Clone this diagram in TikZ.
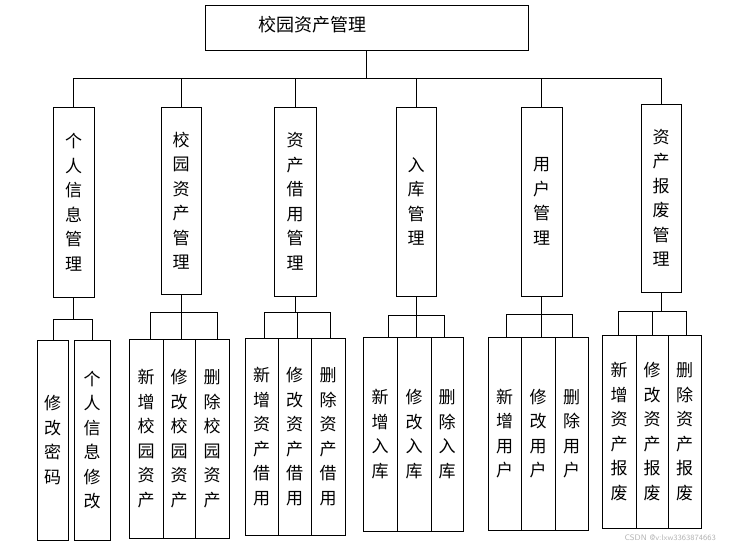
\documentclass[tikz,border=0pt]{standalone}
\usepackage{fontspec}
\newfontfamily\cjk{Noto Sans CJK SC}
\begin{document}
\begin{tikzpicture}[x=1pt,y=-1pt,
  bx/.style={draw,line width=0.9pt,inner sep=0pt},
  vt/.style={font=\cjk\fontsize{17}{24.5}\selectfont,align=center,inner sep=0pt},
  ln/.style={line width=0.9pt}]
\useasboundingbox (0,0) rectangle (730,551);
\newcommand\bx[6]{\node[bx,minimum width={#4-#2},minimum height={#5-#3}] (#1) at ({(#2+#4)/2},{(#3+#5)/2}) {};
  \node[vt] at (#1.center) {#6};}
\node[bx,minimum width=323,minimum height=45] (top) at (366.5,27.5) {};
\node[font=\cjk\fontsize{18}{20}\selectfont,inner sep=0pt] (title) at (312,25) {校园资产管理};
\coordinate (bar) at (0,78);
\bx{p1}{53}{107}{94}{297}{个\\人\\信\\息\\管\\理}
\bx{p2}{161}{107}{201}{294}{校\\园\\资\\产\\管\\理}
\bx{p3}{274}{107}{316}{296}{资\\产\\借\\用\\管\\理}
\bx{p4}{396}{107}{436}{296}{入\\库\\管\\理}
\bx{p5}{521}{107}{562}{296}{用\\户\\管\\理}
\bx{p6}{641}{104}{681}{292}{资\\产\\报\\废\\管\\理}
\draw[ln] (top.south) -- (top.south |- bar);
\draw[ln] (p1.north |- bar) -- (p6.north |- bar);
\foreach \p in {p1,p2,p3,p4,p5,p6} \draw[ln] (\p.north |- bar) -- (\p.north);
% group 1
\bx{a1}{37}{340}{68}{540}{修\\改\\密\\码}
\bx{a2}{74}{340}{110}{540}{个\\人\\信\\息\\修\\改}
\draw[ln] (p1.south) -- (p1.south |- 0,319);
\draw[ln] (53,319) -- (92,319);
\draw[ln] (53,319) -- (53,340); \draw[ln] (92,319) -- (92,340);
% group 2
\bx{b1a}{129}{339}{163}{538}{新\\增\\校\\园\\资\\产}
\bx{b2a}{163}{339}{195}{538}{修\\改\\校\\园\\资\\产}
\bx{b3a}{195}{339}{229}{538}{删\\除\\校\\园\\资\\产}
\draw[ln] (p2.south) -- (p2.south |- 0,339);
\draw[ln] (150,312) -- (217,312);
\draw[ln] (150,312) -- (150,339); \draw[ln] (217,312) -- (217,339);
% group 3
\bx{c1}{245}{338}{278}{535}{新\\增\\资\\产\\借\\用}
\bx{c2}{278}{338}{311}{535}{修\\改\\资\\产\\借\\用}
\bx{c3}{311}{338}{345}{535}{删\\除\\资\\产\\借\\用}
\draw[ln] (p3.south) -- (p3.south |- 0,312);
\draw[ln] (264,312) -- (330,312);
\draw[ln] (264,312) -- (264,338); \draw[ln] (330,312) -- (330,338);
\draw[ln] (297,312) -- (297,338);
% group 4
\bx{d1}{363}{337}{397}{531}{新\\增\\入\\库}
\bx{d2}{397}{337}{431}{531}{修\\改\\入\\库}
\bx{d3}{431}{337}{463}{531}{删\\除\\入\\库}
\draw[ln] (p4.south) -- (p4.south |- 0,315);
\draw[ln] (388,315) -- (444,315);
\draw[ln] (388,315) -- (388,337); \draw[ln] (444,315) -- (444,337);
\draw[ln] (416,315) -- (416,337);
% group 5
\bx{e1}{488}{337}{521}{530}{新\\增\\用\\户}
\bx{e2}{521}{337}{555}{530}{修\\改\\用\\户}
\bx{e3}{555}{337}{588}{530}{删\\除\\用\\户}
\draw[ln] (p5.south) -- (p5.south |- 0,314);
\draw[ln] (506,314) -- (572,314);
\draw[ln] (506,314) -- (506,337); \draw[ln] (572,314) -- (572,337);
\draw[ln] (541,314) -- (541,337);
% group 6
\bx{f1}{602}{335}{636}{528}{新\\增\\资\\产\\报\\废}
\bx{f2}{636}{335}{668}{528}{修\\改\\资\\产\\报\\废}
\bx{f3}{668}{335}{701}{528}{删\\除\\资\\产\\报\\废}
\draw[ln] (p6.south) -- (p6.south |- 0,311);
\draw[ln] (618,311) -- (686,311);
\draw[ln] (618,311) -- (618,335); \draw[ln] (686,311) -- (686,335);
\draw[ln] (652,311) -- (652,335);
\node[font=\sffamily\fontsize{8}{9}\selectfont,text=gray!60,anchor=east,inner sep=0pt] (wm) at (716,538) {CSDN @v:lxw3363874663};
\end{tikzpicture}
\end{document}
